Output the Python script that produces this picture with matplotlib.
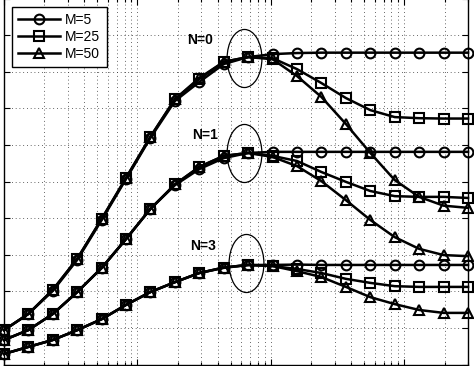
import matplotlib
matplotlib.use('Agg')
import matplotlib.pyplot as plt
from matplotlib.path import Path
from matplotlib.transforms import Affine2D
from matplotlib.ticker import LogLocator, NullFormatter, MultipleLocator

# x values (log axis)
x = [1.0, 1.52, 2.32, 3.54, 5.40, 8.22, 12.5, 19.1, 29.1, 44.4,
     67.6, 103, 157, 239, 365, 556, 847, 1291, 1968, 3000]

# N=0 curves
n0_m5 = [0.94, 1.38, 2.01, 2.86, 3.95, 5.07, 6.19, 7.20, 7.72, 8.21,
         8.40, 8.48, 8.51, 8.52, 8.52, 8.52, 8.52, 8.52, 8.52, 8.52]
n0_m25 = [0.94, 1.38, 2.04, 2.89, 3.98, 5.10, 6.22, 7.25, 7.80, 8.27,
          8.40, 8.37, 8.07, 7.69, 7.28, 6.95, 6.76, 6.73, 6.72, 6.72]
n0_m50 = [0.94, 1.38, 2.04, 2.89, 3.98, 5.10, 6.22, 7.25, 7.83, 8.27,
          8.40, 8.34, 7.88, 7.31, 6.57, 5.78, 5.04, 4.58, 4.34, 4.28]

# N=1 curves
n1_m5 = [0.67, 0.94, 1.38, 1.98, 2.64, 3.43, 4.25, 4.90, 5.34, 5.64,
         5.78, 5.81, 5.81, 5.81, 5.81, 5.81, 5.81, 5.81, 5.81, 5.81]
n1_m25 = [0.67, 0.94, 1.38, 1.98, 2.64, 3.43, 4.25, 4.92, 5.40, 5.70,
          5.78, 5.70, 5.56, 5.26, 4.99, 4.74, 4.60, 4.58, 4.58, 4.55]
n1_m50 = [0.67, 0.94, 1.38, 1.98, 2.64, 3.43, 4.25, 4.92, 5.40, 5.70,
          5.78, 5.67, 5.42, 5.01, 4.49, 3.95, 3.48, 3.16, 2.99, 2.96]

# N=3 curves
n3_m5 = [0.29, 0.48, 0.67, 0.94, 1.24, 1.63, 1.98, 2.25, 2.50, 2.64,
         2.72, 2.72, 2.73, 2.72, 2.72, 2.72, 2.72, 2.72, 2.72, 2.72]
n3_m25 = [0.29, 0.48, 0.67, 0.94, 1.24, 1.63, 1.98, 2.25, 2.50, 2.65,
          2.72, 2.69, 2.61, 2.50, 2.34, 2.23, 2.14, 2.12, 2.12, 2.12]
n3_m50 = [0.29, 0.48, 0.67, 0.94, 1.24, 1.63, 1.98, 2.25, 2.50, 2.65,
          2.72, 2.69, 2.55, 2.39, 2.12, 1.84, 1.65, 1.49, 1.41, 1.41]

m_labels = ['M=5', 'M=25', 'M=50']
markers = ['o', 's', '^']
groups = [(n0_m5, n0_m25, n0_m50), (n1_m5, n1_m25, n1_m50), (n3_m5, n3_m25, n3_m50)]

# group annotations
n_labels = ['N=0', 'N=1', 'N=3']
label_x = [29.5, 32.2, 31.1]
label_y = [8.87, 6.27, 3.24]
ellipse_x = [63, 63, 65]
ellipse_y = [8.37, 5.79, 2.77]

plt.rcParams['font.family'] = ['Liberation Sans', 'DejaVu Sans']

fig = plt.figure(figsize=(4.74, 3.66), dpi=100)
ax = fig.add_axes([4 / 474, 1.5 / 366, 464 / 474, 1.0])
ax.set_xscale('log')

for gi, series in enumerate(groups):
    for y, mk, lab in zip(series, markers, m_labels):
        ax.plot(x, y, color='black', lw=1.8, marker=mk, ms=7, mew=1.5,
                mfc='none', mec='black', clip_on=False,
                label=lab if gi == 0 else None, zorder=3)

# ellipses around the peaks
ell = Path.unit_circle().transformed(Affine2D().scale(0.6, 1.0))
for ex, ey in zip(ellipse_x, ellipse_y):
    ax.plot([ex], [ey], marker=ell, ms=41.8, mfc='none', mec='black',
            mew=0.9, ls='none', zorder=4)

for lx, ly, t in zip(label_x, label_y, n_labels):
    ax.text(lx, ly, t, fontsize=10, fontweight='bold', ha='center', va='center')

ax.set_xlim(1, 3000)
ax.set_ylim(0, 10)
ax.xaxis.set_major_locator(LogLocator(base=10))
ax.xaxis.set_minor_locator(LogLocator(base=10, subs=range(2, 10)))
ax.xaxis.set_major_formatter(NullFormatter())
ax.xaxis.set_minor_formatter(NullFormatter())
ax.yaxis.set_major_locator(MultipleLocator(1))
ax.yaxis.set_major_formatter(NullFormatter())
ax.tick_params(which='both', direction='in', top=True, right=True, width=0.8)
ax.tick_params(which='major', length=4)
ax.tick_params(which='minor', length=2.5)

ax.grid(True, which='both', color='0.2', lw=0.6, ls=(0, (1, 3.5)))
for s in ax.spines.values():
    s.set_linewidth(1.0)

leg = ax.legend(loc='upper left', bbox_to_anchor=(0.017, 0.977), borderaxespad=0,
                fontsize=10, fancybox=False, framealpha=1, edgecolor='black',
                handlelength=3.0, handletextpad=0.4, labelspacing=0.2,
                borderpad=0.45)
leg.get_frame().set_linewidth(1.0)
leg.set_zorder(5)

fig.savefig('out.png', dpi=100)
